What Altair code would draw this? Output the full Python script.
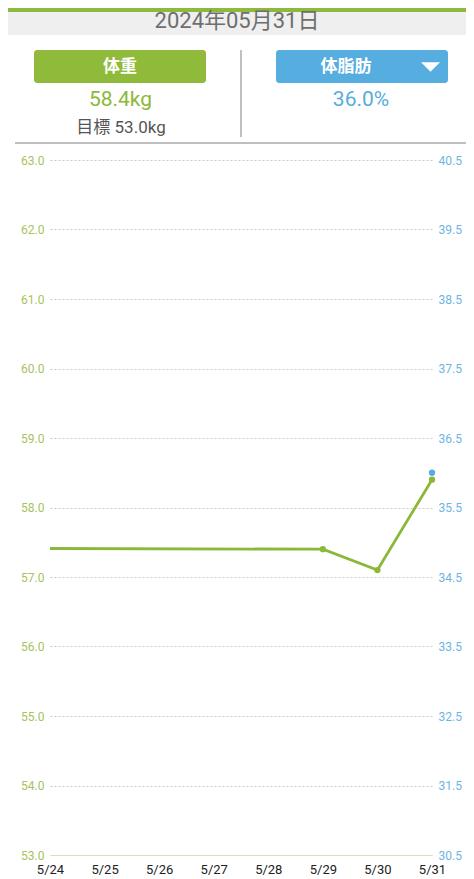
import altair as alt
import pandas as pd

# ---- data ----
all_dates = ["5/24", "5/25", "5/26", "5/27", "5/28", "5/29", "5/30", "5/31"]
line_dates = ["5/24", "5/29", "5/30", "5/31"]
weight_line = [57.41, 57.40, 57.10, 58.40]
dot_dates = ["5/29", "5/30", "5/31"]
weight_dots = [57.40, 57.10, 58.40]
fat_dates = ["5/31"]
fat_values = [36.0]

left_ticks = [53.0, 54.0, 55.0, 56.0, 57.0, 58.0, 59.0, 60.0, 61.0, 62.0, 63.0]
right_ticks = [30.5, 31.5, 32.5, 33.5, 34.5, 35.5, 36.5, 37.5, 38.5, 39.5, 40.5]

header_date = "2024年05月31日"
btn_weight = "体重"
btn_fat = "体脂肪"
weight_now = "58.4kg"
weight_goal = "目標 53.0kg"
fat_now = "36.0%"

GREEN = "#8cb83a"
BLUE = "#56acdf"
FONT = "Roboto, 'Noto Sans CJK JP', sans-serif"

W, H = 382, 695

line_df = pd.DataFrame({"date": line_dates, "weight": weight_line})
dot_df = pd.DataFrame({"date": dot_dates, "weight": weight_dots})
fat_df = pd.DataFrame({"date": fat_dates, "fat": fat_values})
one = pd.DataFrame({"k": [0]})

xenc = alt.X("date:O", scale=alt.Scale(type="point", padding=0, domain=all_dates),
             axis=alt.Axis(title=None, labelAngle=0, labelColor="#222222", labelFontSize=13,
                           labelFont=FONT, ticks=False, domain=True, domainColor="#dcdfbe",
                           domainWidth=1.2, labelPadding=8, labelOverlap=False, labelBound=False,
                           grid=False))
yleft = alt.Y("weight:Q", scale=alt.Scale(domain=[53, 63], nice=False, zero=False),
              axis=alt.Axis(title=None, values=left_ticks, format=".1f", labelColor="#a6c35e",
                            labelFontSize=12, labelFont=FONT, ticks=False, domain=False,
                            grid=True, gridColor="#c8c8c8", gridDash=[2, 2], gridWidth=1,
                            labelPadding=6, labelFlush=False, orient="left"))

line = alt.Chart(line_df).mark_line(color=GREEN, strokeWidth=2.8).encode(x=xenc, y=yleft)
dots = alt.Chart(dot_df).mark_circle(color=GREEN, size=40, opacity=1).encode(
    x=xenc, y=alt.Y("weight:Q", scale=alt.Scale(domain=[53, 63], nice=False, zero=False)))
left_layer = alt.layer(line, dots)

fat = alt.Chart(fat_df).mark_circle(color=BLUE, size=40, opacity=1).encode(
    x=xenc,
    y=alt.Y("fat:Q", scale=alt.Scale(domain=[30.5, 40.5], nice=False, zero=False),
            axis=alt.Axis(title=None, values=right_ticks, format=".1f", labelColor="#6db5e2",
                          labelFontSize=12, labelFont=FONT, ticks=False, domain=False,
                          grid=False, labelPadding=6, labelFlush=False, orient="right")))

def rect(x1, x2, y1, y2, color, r=0):
    return alt.Chart(one).mark_rect(color=color, cornerRadius=r).encode(
        x=alt.value(x1), x2=alt.value(x2), y=alt.value(y1), y2=alt.value(y2))

def txt(s, x, y, size, color, weight="normal", baseline="middle"):
    return alt.Chart(one).mark_text(text=s, fontSize=size, color=color, font=FONT,
                                    fontWeight=weight, baseline=baseline, align="center").encode(
        x=alt.value(x), y=alt.value(y))

deco = [
    rect(-42, 416, -152, -148, "#8dba3c"),
    rect(-42, 416, -148, -125, "#efefef"),
    txt(header_date, 187, -139, 22, "#6e6e6e"),
    rect(-16, 156, -110, -77, "#8fba3a", 3),
    txt(btn_weight, 70, -93, 17, "white", "bold"),
    txt(weight_now, 70.5, -54, 21, GREEN, baseline="alphabetic"),
    txt(weight_goal, 71, -27, 17, "#555555", baseline="alphabetic"),
    alt.Chart(one).mark_rule(color="#ababab", strokeWidth=1.5).encode(
        x=alt.value(191), y=alt.value(-110), y2=alt.value(-23)),
    rect(226, 398, -110, -77, "#56ade0", 3),
    txt(btn_fat, 296, -93, 17, "white", "bold"),
    alt.Chart(one).mark_point(shape="M-1,-0.5L1,-0.5L0,0.5Z", filled=True, color="white",
                              size=361, opacity=1).encode(x=alt.value(380.5), y=alt.value(-93)),
    txt(fat_now, 311, -54, 21, BLUE, baseline="alphabetic"),
    alt.Chart(one).mark_rule(color="#aaaaaa", strokeWidth=1.5).encode(
        x=alt.value(-35), x2=alt.value(416), y=alt.value(-17)),
]

chart = alt.layer(left_layer, fat, *deco).resolve_scale(y="independent").properties(
    width=W, height=H,
    autosize=alt.AutoSizeParams(type="none"),
    padding={"left": 42, "top": 152, "right": 34, "bottom": 22},
    background="white",
).configure_view(stroke=None)

chart.save("out.html", embed_options={"renderer": "svg", "actions": False})
